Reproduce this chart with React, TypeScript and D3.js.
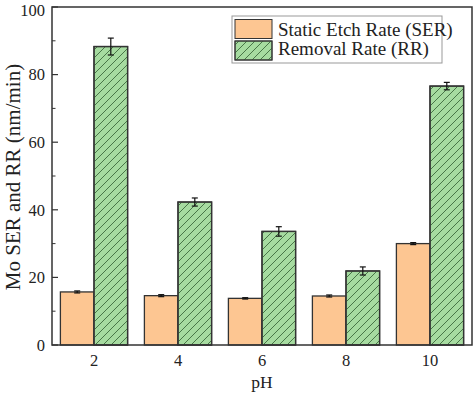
import React from "react";
import * as d3 from "d3";

const phValues = [2, 4, 6, 8, 10];
const serValues = [15.7, 14.6, 13.8, 14.5, 30.0];
const serErrors = [0.3, 0.3, 0.2, 0.3, 0.3];
const rrValues = [88.3, 42.3, 33.6, 21.9, 76.6];
const rrErrors = [2.5, 1.2, 1.4, 1.2, 1.1];
const yTicks = [0, 20, 40, 60, 80, 100];
const yMinorTicks = [10, 30, 50, 70, 90];
const legendLabels = ["Static Etch Rate (SER)", "Removal Rate (RR)"];

const W = 474;
const H = 397;
const margin = { left: 52, right: 2, top: 7, bottom: 52 };
const FONT = "'Liberation Serif', 'Times New Roman', serif";
const ORANGE = "#FDC692";
const GREEN = "#A6DBA0";
const EDGE = "#333333";

export default function App() {
  const x = d3.scaleLinear().domain([1, 11]).range([margin.left, W - margin.right]);
  const y = d3.scaleLinear().domain([0, 100]).range([H - margin.bottom, margin.top]);
  const bw = x(1.8) - x(1);
  const capW = 6;

  const bar = (v: number, e: number, cx: number, fill: string, key: string) => (
    <g key={key}>
      <rect x={cx} y={y(v)} width={bw} height={y(0) - y(v)} fill={fill} stroke={EDGE} strokeWidth={1.3} />
      {fill !== ORANGE ? (
        <rect x={cx} y={y(v)} width={bw} height={y(0) - y(v)} fill="url(#hatch)" stroke={EDGE} strokeWidth={1.3} />
      ) : null}
      <line x1={cx + bw / 2} x2={cx + bw / 2} y1={y(v + e)} y2={y(v - e)} stroke="#111" strokeWidth={1.2} />
      <line x1={cx + bw / 2 - capW / 2} x2={cx + bw / 2 + capW / 2} y1={y(v + e)} y2={y(v + e)} stroke="#111" strokeWidth={1.2} />
      <line x1={cx + bw / 2 - capW / 2} x2={cx + bw / 2 + capW / 2} y1={y(v - e)} y2={y(v - e)} stroke="#111" strokeWidth={1.2} />
    </g>
  );

  return (
    <svg width={W} height={H} style={{ position: "absolute", left: 0, top: 0, background: "#fff" }}>
      <defs>
        <pattern id="hatch" patternUnits="userSpaceOnUse" width={8} height={8}>
          <path d="M-2,2 L2,-2 M0,8 L8,0 M6,10 L10,6" stroke="#3d6b3d" strokeWidth={0.9} />
        </pattern>
      </defs>
      {phValues.map((p, i) => bar(serValues[i], serErrors[i], x(p) - bw, ORANGE, "s" + i))}
      {phValues.map((p, i) => bar(rrValues[i], rrErrors[i], x(p), GREEN, "r" + i))}
      <rect x={margin.left} y={margin.top} width={W - margin.right - margin.left} height={y(0) - margin.top} fill="none" stroke="#333" strokeWidth={1.5} />
      {yTicks.map((t) => (
        <g key={"y" + t}>
          <line x1={margin.left} x2={margin.left + 6} y1={y(t)} y2={y(t)} stroke="#333" strokeWidth={1.2} />
          <text x={margin.left - 7} y={Math.max(y(t), 10)} dy="0.35em" textAnchor="end" fontFamily={FONT} fontSize={16.5} fill="#222">
            {t}
          </text>
        </g>
      ))}
      {yMinorTicks.map((t) => (
        <line key={"m" + t} x1={margin.left} x2={margin.left + 3.5} y1={y(t)} y2={y(t)} stroke="#333" strokeWidth={1} />
      ))}
      {phValues.map((p) => (
        <text key={"x" + p} x={x(p)} y={y(0) + 20.5} textAnchor="middle" fontFamily={FONT} fontSize={16.5} fill="#222">
          {p}
        </text>
      ))}
      <text x={x(6)} y={388} textAnchor="middle" fontFamily={FONT} fontSize={17.5} fill="#222">
        pH
      </text>
      <text
        transform={`translate(20, ${(margin.top + y(0)) / 2 + 1}) rotate(-90)`}
        textAnchor="middle"
        fontFamily={FONT}
        fontSize={21}
        fill="#222"
      >
        Mo SER and RR (nm/min)
      </text>
      <rect x={232} y={16} width={210} height={47} fill="#fff" stroke="#999" strokeWidth={1} />
      <rect x={235} y={19.5} width={37} height={19} fill={ORANGE} stroke={EDGE} strokeWidth={1} />
      <rect x={235} y={41} width={37} height={19} fill={GREEN} stroke={EDGE} strokeWidth={1} />
      <rect x={235} y={41} width={37} height={19} fill="url(#hatch)" stroke={EDGE} strokeWidth={1} />
      {legendLabels.map((l, i) => (
        <text key={l} x={278} y={35.5 + i * 19.5} fontFamily={FONT} fontSize={19} fill="#222">
          {l}
        </text>
      ))}
    </svg>
  );
}
